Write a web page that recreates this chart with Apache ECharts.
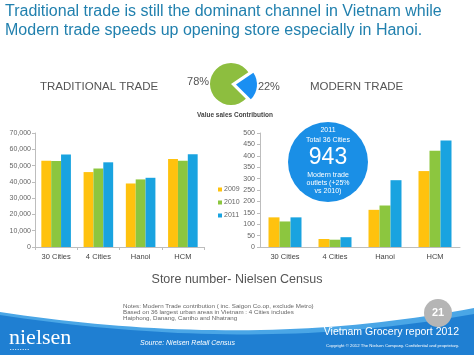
<!DOCTYPE html>
<html><head><meta charset="utf-8">
<script src="https://cdn.jsdelivr.net/npm/echarts@6/dist/echarts.min.js"></script>
<style>html,body{margin:0;padding:0;background:#fff}#c{width:474px;height:355px}</style>
</head><body><div id="c"></div>
<script>
const categories = ['30 Cities', '4 Cities', 'Hanoi', 'HCM'];
const years = ['2009', '2010', '2011'];
const tradStores2009 = [53000, 46000, 39000, 54000];
const tradStores2010 = [52800, 48200, 41500, 53000];
const tradStores2011 = [56800, 52000, 42500, 57000];
const modernStores2009 = [130, 35, 163, 333];
const modernStores2010 = [112, 32, 182, 422];
const modernStores2011 = [130, 43, 293, 467];
const shareNames = ['TRADITIONAL TRADE', 'MODERN TRADE'];
const shareValues = [78, 22];
const colors = ['#FFC20E', '#8CC63F', '#19A3E0'];

const FONT = 'Liberation Sans, Arial, sans-serif';
const chart = echarts.init(document.getElementById('c'), null, {renderer: 'canvas'});
const tradData = [tradStores2009, tradStores2010, tradStores2011];
const modData = [modernStores2009, modernStores2010, modernStores2011];

const axisCommon = {
  axisLine: {show: true, lineStyle: {color: '#bdbdbd'}},
  axisTick: {show: true, lineStyle: {color: '#bdbdbd'}, length: 3},
  splitLine: {show: false}
};

const series = [];
years.forEach((y, i) => {
  series.push({type: 'bar', name: y, xAxisIndex: 0, yAxisIndex: 0, data: tradData[i],
    itemStyle: {color: colors[i]}, barGap: '0%', barCategoryGap: '30%', silent: true});
});
years.forEach((y, i) => {
  series.push({type: 'bar', name: y, xAxisIndex: 1, yAxisIndex: 1, data: modData[i],
    itemStyle: {color: colors[i]}, barGap: '0%', barCategoryGap: '34%', silent: true});
});
series.push({
  type: 'pie', center: [231, 84], radius: 21, startAngle: 315,
  selectedMode: 'single', selectedOffset: 5, silent: true,
  label: {show: true, position: 'outside', formatter: '{d}%', fontSize: 11, color: '#555', fontFamily: FONT, distanceToLabelLine: 0},
  labelLine: {show: false, length: 1, length2: 0},
  data: shareNames.map((n, i) => ({name: n, value: shareValues[i], selected: i === 1,
    itemStyle: {color: i === 0 ? '#8DBE3F' : '#1A8FF2'}}))
});

// decorative wave banner outline (cubic bezier sampled)
function wave(y0, c1, c2, y3) {
  const pts = [];
  for (let k = 0; k <= 40; k++) {
    const t = k / 40, u = 1 - t;
    const x = 474 * t;
    const y = u*u*u*y0 + 3*u*u*t*c1 + 3*u*t*t*c2 + t*t*t*y3;
    pts.push([x, y]);
  }
  pts.push([474, 355], [0, 355]);
  return pts;
}

const wt = (x, y, text, size, extra) => Object.assign({type: 'text', x: x, y: y, z: 100,
  style: Object.assign({text: text, fontSize: size, fontFamily: FONT, fill: '#555', textVerticalAlign: 'middle'}, extra || {})});

chart.setOption({
  animation: false,
  textStyle: {fontFamily: FONT},
  grid: [
    {left: 35, right: 270, top: 133, bottom: 108},
    {left: 260, right: 14, top: 133, bottom: 108}
  ],
  xAxis: [
    Object.assign({type: 'category', gridIndex: 0, data: categories,
      axisLabel: {fontSize: 7.5, color: '#444', margin: 6}}, axisCommon),
    Object.assign({type: 'category', gridIndex: 1, data: categories,
      axisLabel: {fontSize: 7.5, color: '#444', margin: 6}}, axisCommon,
      {axisTick: {show: false}})
  ],
  yAxis: [
    Object.assign({type: 'value', gridIndex: 0, min: 0, max: 70000, interval: 10000,
      axisLabel: {fontSize: 7, color: '#666', margin: 4, formatter: v => v.toLocaleString('en-US')}}, axisCommon),
    Object.assign({type: 'value', gridIndex: 1, min: 0, max: 500, interval: 50,
      axisLabel: {fontSize: 7, color: '#666', margin: 5}}, axisCommon)
  ],
  legend: {data: years, orient: 'vertical', left: 213, top: 181, itemWidth: 4, itemHeight: 4, itemGap: 6,
    icon: 'rect', textStyle: {fontSize: 7, color: '#666', padding: [0, 0, 0, -3]}, selectedMode: false},
  series: series,
  graphic: [
    wt(5, 12, 'Traditional trade is still the dominant channel in Vietnam while', 16, {fill: '#2180AE'}),
    wt(5, 31, 'Modern trade speeds up opening store especially in Hanoi.', 16, {fill: '#2180AE'}),
    wt(40, 87, 'TRADITIONAL TRADE', 11.5, {fill: '#555'}),
    wt(310, 87, 'MODERN TRADE', 11.5, {fill: '#555'}),
    wt(235, 115, 'Value sales Contribution', 6.5, {fill: '#444', fontWeight: 'bold', textAlign: 'center'}),
    {type: 'circle', shape: {cx: 328, cy: 162, r: 40}, style: {fill: '#1A8FE6'}, z: 90},
    wt(328, 130, '2011', 7, {fill: '#fff', textAlign: 'center'}),
    wt(328, 140, 'Total 36 Cities', 7, {fill: '#fff', textAlign: 'center'}),
    wt(328, 158, '943', 23, {fill: '#fff', textAlign: 'center'}),
    wt(328, 175, 'Modern trade', 7, {fill: '#fff', textAlign: 'center'}),
    wt(328, 183, 'outlets (+25%', 7, {fill: '#fff', textAlign: 'center'}),
    wt(328, 191, 'vs 2010)', 7, {fill: '#fff', textAlign: 'center'}),
    wt(237, 280, 'Store number- Nielsen Census', 12.5, {fill: '#555', textAlign: 'center'}),
    {type: 'polygon', z: 80, shape: {points: wave(312, 336, 338, 308)}, style: {fill: '#4AA6E6'}},
    {type: 'polygon', z: 81, shape: {points: wave(315, 339, 343, 314)}, style: {fill: '#1F7FD2'}},
    wt(123, 306, 'Notes: Modern Trade contribution ( inc. Saigon Co.op, exclude Metro)', 6.2, {fill: '#666'}),
    wt(123, 312, 'Based on 36 largest urban areas in Vietnam : 4 Cities includes', 6.2, {fill: '#666'}),
    wt(123, 318, 'Haiphong, Danang, Cantho and Nhatrang', 6.2, {fill: '#666'}),
    {type: 'circle', z: 90, shape: {cx: 438, cy: 313, r: 14}, style: {fill: '#B5B5B5'}},
    wt(438, 313, '21', 11, {fill: '#fff', fontWeight: 'bold', textAlign: 'center'}),
    wt(9, 338, 'nielsen', 22, {fill: '#fff', fontFamily: 'Liberation Serif, DejaVu Serif, serif'}),
    wt(10, 350, '• • • • • • • •', 4, {fill: '#fff'}),
    wt(140, 343, 'Source: Nielsen Retail Census', 7, {fill: '#fff', fontStyle: 'italic'}),
    wt(459, 332, 'Vietnam Grocery report 2012', 10.5, {fill: '#fff', textAlign: 'right'}),
    wt(459, 346, 'Copyright © 2012 The Nielsen Company. Confidential and proprietary.', 4.3, {fill: '#fff', textAlign: 'right'})
  ]
});
</script></body></html>
